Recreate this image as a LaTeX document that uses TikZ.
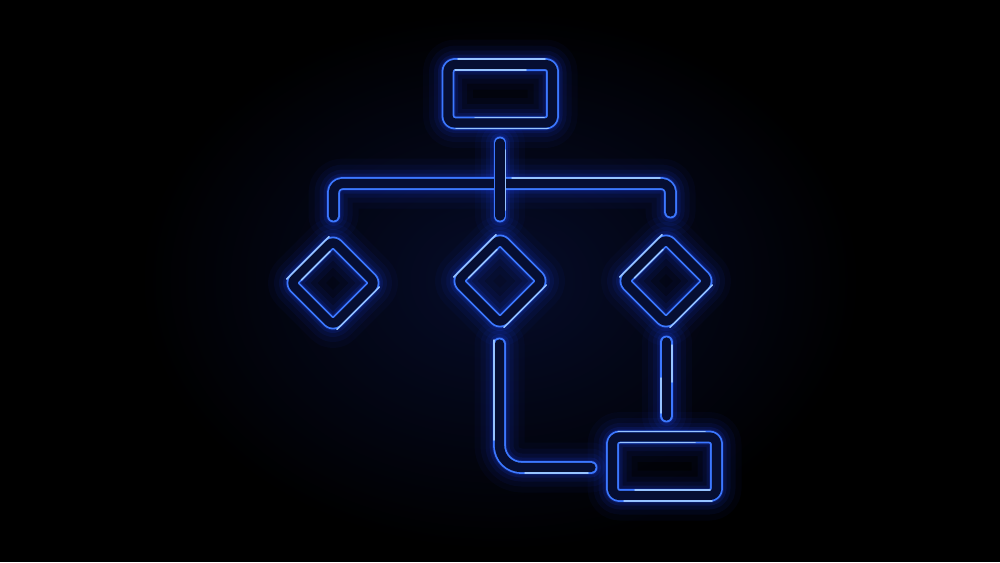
\documentclass[tikz,border=0pt]{standalone}
\definecolor{neon}{RGB}{60,120,255}
\definecolor{neonhi}{RGB}{150,195,255}
\definecolor{glowc}{RGB}{30,70,255}
\definecolor{tubein}{RGB}{6,14,50}
\definecolor{haze}{RGB}{6,12,42}
\tikzset{
  glowline/.style={draw=glowc, line cap=round, line join=round},
  tube/.style={draw=neon, line width=1.8pt, double=tubein, double distance=9.3pt, line cap=round, line join=round},
  hiline/.style={draw=neonhi, line width=1.5pt, line cap=round},
}
\newcommand\glowpath[1]{%
  \foreach \w/\o in {50/0.04,38/0.06,28/0.08,20/0.12,15/0.18}{\draw[glowline, line width=\w pt, opacity=\o] #1;}}
\begin{document}
\begin{tikzpicture}[x=1pt,y=-1pt]
\fill[black] (0,0) rectangle (1000,562);
\useasboundingbox (0,0) rectangle (1000,562);
\begin{scope}
\clip (0,0) rectangle (1000,562);
\shade[inner color=haze, outer color=black] (500,280) ellipse (360 and 270);
\end{scope}
% named points
\coordinate (dl) at (333,283);
\coordinate (dm) at (500,281);
\coordinate (dr) at (666,281);
% glow
\glowpath{[rounded corners=7] (448,64.5) rectangle (552.5,123)}
\glowpath{(500,143) -- (500,216)}
\glowpath{[rounded corners=9] (333.5,216) -- (333.5,183.5) -- (670.5,183.5) -- (670.5,212)}
\foreach \c in {dl,dm,dr}{
  \glowpath{[rounded corners=6] ([yshift=-42.5]\c) -- ([xshift=42.5]\c) -- ([yshift=42.5]\c) -- ([xshift=-42.5]\c) -- cycle}
}
\glowpath{[rounded corners=22] (499.5,344) -- (499.5,467.5) -- (591,467.5)}
\glowpath{(666.5,342) -- (666.5,416)}
\glowpath{[rounded corners=7] (612.5,437) rectangle (716.5,495.5)}
% tubes
\draw[tube, rounded corners=7] (448,64.5) rectangle (552.5,123);
\draw[tube, rounded corners=9] (333.5,216) -- (333.5,183.5) -- (670.5,183.5) -- (670.5,212);
\draw[tube] (500,143) -- (500,216);
\foreach \c in {dl,dm,dr}{
  \draw[tube, rounded corners=6] ([yshift=-42.5]\c) -- ([xshift=42.5]\c) -- ([yshift=42.5]\c) -- ([xshift=-42.5]\c) -- cycle;
}
\draw[tube, rounded corners=22] (499.5,344) -- (499.5,467.5) -- (591,467.5);
\draw[tube] (666.5,342) -- (666.5,416);
\draw[tube, rounded corners=7] (612.5,437) rectangle (716.5,495.5);
% bright highlights
\draw[hiline] (458,58.9) -- (545,58.9);
\draw[hiline] (455,70.1) -- (526,70.1);
\draw[hiline] (475,117.4) -- (544,117.4);
\draw[hiline] (456,128.6) -- (548,128.6);
\draw[hiline] (512,178) -- (660,178);
\draw[hiline] (505.5,150) -- (505.5,210);
\draw[hiline] (494,340) -- (494,440);
\draw[hiline] (525,473) -- (588,473);
\draw[hiline] (672,345) -- (672,382);
\draw[hiline] (661,378) -- (661,413);
\draw[hiline] (618,431.5) -- (705,431.5);
\draw[hiline] (620,442.5) -- (695,442.5);
\draw[hiline] (635,490) -- (710,490);
\draw[hiline] (624,501) -- (712,501);
\foreach \c in {dl,dm,dr}{
  \draw[hiline] ([xshift=4,yshift=-46.3]\c) -- ([xshift=46.3,yshift=-4]\c);
  \draw[hiline] ([xshift=-46.3,yshift=4]\c) -- ([xshift=-4,yshift=46.3]\c);
  \draw[hiline] ([xshift=-31.5,yshift=3]\c) -- ([xshift=-3,yshift=31.5]\c);
}
\end{tikzpicture}
\end{document}
